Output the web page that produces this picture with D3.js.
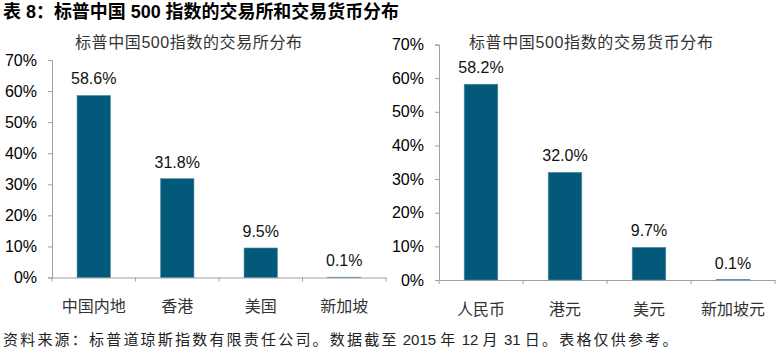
<!DOCTYPE html>
<html>
<head>
<meta charset="utf-8">
<script src="https://cdn.jsdelivr.net/npm/d3@7/dist/d3.min.js"></script>
<style>
  body { margin: 0; background: #fff; }
  text { font-family: "Liberation Sans", Arial, "Noto Sans CJK SC", sans-serif; }
</style>
</head>
<body>
<div id="chart"></div>
<script>
// data
var exchangeCats = ["中国内地", "香港", "美国", "新加坡"];
var exchangeVals = [58.6, 31.8, 9.5, 0.1];
var currencyCats = ["人民币", "港元", "美元", "新加坡元"];
var currencyVals = [58.2, 32.0, 9.7, 0.1];
var yTicks = [0, 10, 20, 30, 40, 50, 60, 70];
var footerParts = ["资料来源：标普道琼斯指数有限责任公司。数据截至", " 2015 ", "年", " 12 ", "月", " 31 ", "日。表格仅供参考。"];

var width = 776, height = 351;
var barColor = "#02597a";
var axisColor = "#a0a0a0";

var svg = d3.select("#chart").append("svg")
  .attr("width", width).attr("height", height);

// main title
svg.append("text")
  .attr("x", 3).attr("y", 18)
  .attr("font-size", 18).attr("font-weight", "bold")
  .attr("textLength", 396).attr("lengthAdjust", "spacingAndGlyphs")
  .text("表 8：标普中国 500 指数的交易所和交易货币分布");

// footer - CJK runs get extra spacing, digits don't
var foot = svg.append("text")
  .attr("x", 3).attr("y", 345)
  .attr("font-size", 15).attr("fill", "#222");
foot.selectAll("tspan").data(footerParts).enter().append("tspan")
  .attr("letter-spacing", function(d, i) { return i % 2 == 0 ? 2.2 : 0; })
  .text(function(d) { return d; });

function drawChart(cfg) {
  var x = d3.scaleBand().domain(cfg.cats).range([cfg.x0, cfg.x1]).paddingInner(0.6).paddingOuter(0.3);
  var xb = d3.scaleBand().domain(cfg.cats).range([cfg.x0, cfg.x1]);
  var y = d3.scaleLinear().domain([0, 70]).range([cfg.y0, cfg.y1]);
  var g = svg.append("g");

  // title
  g.append("text")
    .attr("x", cfg.titleX).attr("y", 48)
    .attr("font-size", 16).attr("fill", "#333")
    .attr("textLength", cfg.titleW).attr("lengthAdjust", "spacing")
    .text(cfg.title);

  // y axis
  var yAxis = d3.axisLeft(y).tickValues(yTicks).tickSize(4).tickPadding(11)
    .tickFormat(function(d) { return d + "%"; });
  var ya = g.append("g").attr("transform", "translate(" + cfg.x0 + ",0)").call(yAxis);
  ya.select(".domain").attr("stroke", axisColor);
  ya.selectAll(".tick line").attr("stroke", axisColor);
  ya.selectAll(".tick text").attr("font-size", 16).attr("fill", "#000")
    .attr("font-family", "'Liberation Sans', Arial, sans-serif");

  // x axis (ticks at category boundaries)
  var xAxis = d3.axisBottom(xb).tickSize(0).tickFormat("");
  var xa = g.append("g").attr("transform", "translate(0," + cfg.y0 + ")").call(xAxis);
  xa.select(".domain").attr("stroke", axisColor);
  var bounds = cfg.cats.map(function(c) { return xb(c); }).concat([cfg.x1]);
  xa.selectAll(".bnd").data(bounds).enter().append("line")
    .attr("x1", function(d) { return d; }).attr("x2", function(d) { return d; })
    .attr("y1", 0).attr("y2", 4).attr("stroke", axisColor);

  // category labels
  g.selectAll(".cat").data(cfg.cats).enter().append("text")
    .attr("x", function(d) { return xb(d) + xb.bandwidth() / 2; })
    .attr("y", cfg.catY)
    .attr("text-anchor", "middle").attr("font-size", 16).attr("fill", "#333")
    .text(function(d) { return d; });

  // bars
  g.selectAll(".bar").data(cfg.vals).enter().append("rect")
    .attr("x", function(d, i) { return x(cfg.cats[i]); })
    .attr("width", x.bandwidth())
    .attr("y", function(d) { return y(d); })
    .attr("height", function(d) { return cfg.y0 - y(d); })
    .attr("fill", barColor).attr("stroke", "#5b8fa3").attr("stroke-width", 0.6);

  // value labels
  g.selectAll(".val").data(cfg.vals).enter().append("text")
    .attr("x", function(d, i) { return x(cfg.cats[i]) + x.bandwidth() / 2; })
    .attr("y", function(d) { return y(d) - 11; })
    .attr("text-anchor", "middle").attr("font-size", 16).attr("fill", "#111")
    .text(function(d) { return d.toFixed(1) + "%"; });
}

drawChart({
  cats: exchangeCats, vals: exchangeVals,
  x0: 52, x1: 386, y0: 277.5, y1: 60,
  title: "标普中国500指数的交易所分布", titleX: 75, titleW: 227, catY: 312
});

drawChart({
  cats: currencyCats, vals: currencyVals,
  x0: 439, x1: 775, y0: 280, y1: 44.5,
  title: "标普中国500指数的交易货币分布", titleX: 469, titleW: 244, catY: 315
});
</script>
</body>
</html>
